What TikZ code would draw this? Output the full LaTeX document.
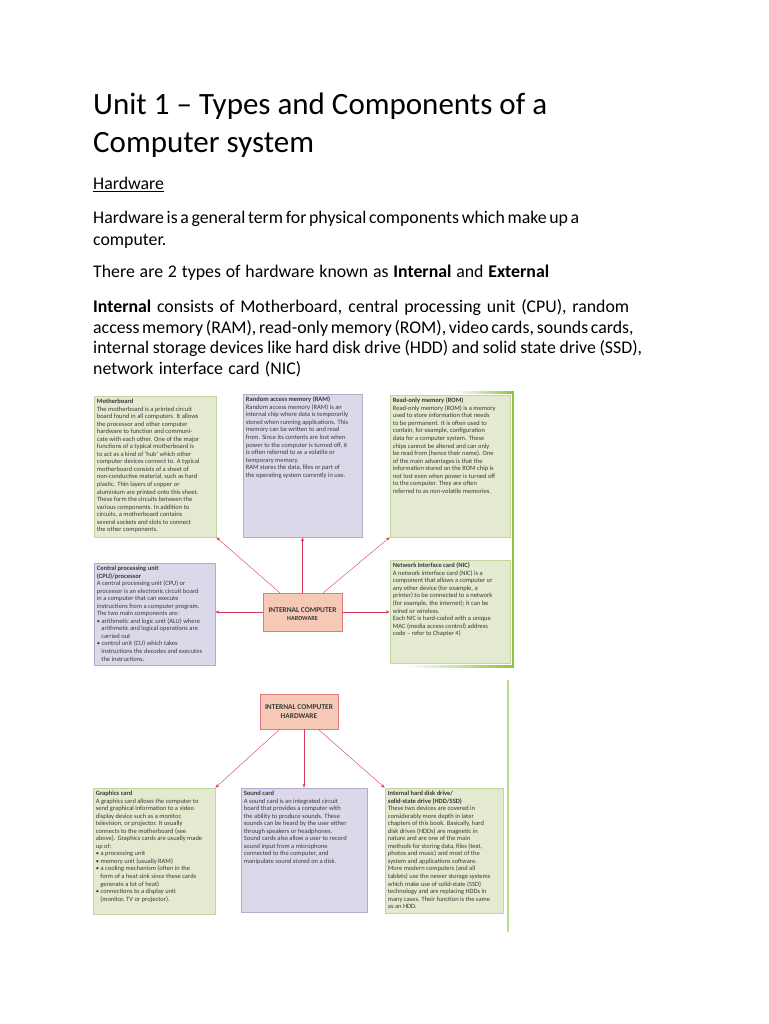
\documentclass[tikz,border=0pt]{standalone}
\usepackage{fontspec}
\setmainfont{Carlito}
\usepackage{tikz}
\usetikzlibrary{arrows.meta, positioning, calc, fit}
\usepackage{xcolor}
\definecolor{boardgreen}{HTML}{E3EACF}
\definecolor{boardgreenline}{HTML}{C3D59E}
\definecolor{chiplilac}{HTML}{DCD8EA}
\definecolor{chiplilacline}{HTML}{B3AACE}
\definecolor{hubsalmon}{HTML}{F6C8B6}
\definecolor{hubline}{HTML}{E0797F}
\definecolor{linkred}{HTML}{D93A5E}
\definecolor{pagegreen}{HTML}{8CC63E}
\definecolor{inktext}{HTML}{3A3A3A}
\newcommand{\spreadline}[2]{\makebox[#1pt][s]{#2}}
\tikzset{
  cardbox/.style={rectangle, draw=#1line, fill=#1, semithick, inner sep=0pt},
  cardbox/.default=boardgreen,
  cardtext/.style={anchor=north west, inner sep=0pt, align=left, text=inktext,
                   font=\fontsize{6.5}{7.55}\selectfont},
  hubbox/.style={rectangle, draw=hubline, fill=hubsalmon, semithick, inner sep=0pt,
                 align=center, text=inktext, font=\fontsize{7.4}{8.6}\selectfont\bfseries},
  line/.style={anchor=base west, inner sep=0pt, font=\fontsize{17.8}{21}\selectfont},
  heading/.style={anchor=base west, inner sep=0pt, font=\fontsize{31}{37}\selectfont},
  arr/.style={-{Stealth[length=4pt, width=3pt]}, #1},
  arr/.default=linkred,
}

\begin{document}
\begin{tikzpicture}[x=1pt, y=-1pt]
  \useasboundingbox[fill=white] (0,0) rectangle (768,1024);

  % --- heading and intro text ---
  \node[heading] (title1) at (93,115) {Unit 1 -- Types and Components of a};
  \node[heading] (title2) at (93,153) {Computer system};
  \node[line] (hw) at (93,190) {\underline{Hardware}};
  \node[line] (p1a) at (93,223) {\spreadline{483}{Hardware is a general term for physical components which make up a}};
  \node[line] (p1b) at (93,245) {computer.};
  \node[line] (p2) at (93,277) {\spreadline{456}{There are 2 types of hardware known as \textbf{Internal} and \textbf{External}}};
  \node[line] (p3a) at (93,312) {\spreadline{536}{\textbf{Internal} consists of Motherboard, central processing unit (CPU), random}};
  \node[line] (p3b) at (93,333) {\spreadline{540}{access memory (RAM), read-only memory (ROM), video cards, sounds cards,}};
  \node[line] (p3c) at (93,353) {\spreadline{549}{internal storage devices like hard disk drive (HDD) and solid state drive (SSD),}};
  \node[line] (p3d) at (93,374) {\spreadline{208}{network interface card (NIC)}};

  % --- upper diagram: page edge of the scan ---
  \shade[left color=white, right color=pagegreen] (455,391) rectangle (513,393.5);
  \shade[left color=white, right color=pagegreen] (405,665) rectangle (513,667.5);
  \draw[pagegreen, line width=1.6pt] (513,391) -- (513,667.5);

  % --- upper diagram: cards ---
  \node[cardbox, fit={(94,396) (216,537)}] (mb) {};
  \node[cardtext] (mbtxt) at ([shift={(3,3)}]mb.north west)
    {\textbf{Motherboard}\\
     The motherboard is a printed circuit\\
     board found in all computers. It allows\\
     the processor and other computer\\
     hardware to function and communi-\\
     cate with each other. One of the major\\
     functions of a typical motherboard is\\
     to act as a kind of `hub' which other\\
     computer devices connect to. A typical\\
     motherboard consists of a sheet of\\
     non-conductive material, such as hard\\
     plastic. Thin layers of copper or\\
     aluminium are printed onto this sheet.\\
     These form the circuits between the\\
     various components. In addition to\\
     circuits, a motherboard contains\\
     several sockets and slots to connect\\
     the other components.};

  \node[cardbox=chiplilac, fit={(243,394) (362,537)}] (ram) {};
  \node[cardtext] (ramtxt) at ([shift={(3,3)}]ram.north west)
    {\textbf{Random access memory (RAM)}\\
     Random access memory (RAM) is an\\
     internal chip where data is temporarily\\
     stored when running applications. This\\
     memory can be written to and read\\
     from. Since its contents are lost when\\
     power to the computer is turned off, it\\
     is often referred to as a volatile or\\
     temporary memory.\\
     RAM stores the data, files or part of\\
     the operating system currently in use.};

  \node[cardbox, fit={(390,395) (510,537)}] (rom) {};
  \node[cardtext] (romtxt) at ([shift={(3,3)}]rom.north west)
    {\textbf{Read-only memory (ROM)}\\
     Read-only memory (ROM) is a memory\\
     used to store information that needs\\
     to be permanent. It is often used to\\
     contain, for example, configuration\\
     data for a computer system. These\\
     chips cannot be altered and can only\\
     be read from (hence their name). One\\
     of the main advantages is that the\\
     information stored on the ROM chip is\\
     not lost even when power is turned off\\
     to the computer. They are often\\
     referred to as non-volatile memories.};

  \node[cardbox=chiplilac, fit={(94,563) (215,665)}] (cpu) {};
  \node[cardtext] (cputxt) at ([shift={(3,3)}]cpu.north west)
    {\textbf{Central processing unit}\\
     \textbf{(CPU)/processor}\\
     A central processing unit (CPU) or\\
     processor is an electronic circuit board\\
     in a computer that can execute\\
     instructions from a computer program.\\
     The two main components are:\\
     \textbullet\ arithmetic and logic unit (ALU) where\\
     \hspace*{4.5pt}arithmetic and logical operations are\\
     \hspace*{4.5pt}carried out\\
     \textbullet\ control unit (CU) which takes\\
     \hspace*{4.5pt}instructions the decodes and executes\\
     \hspace*{4.5pt}the instructions.};

  \node[cardbox, fit={(390,560) (510,663)}] (nic) {};
  \node[cardtext] (nictxt) at ([shift={(3,3)}]nic.north west)
    {\textbf{Network interface card (NIC)}\\
     A network interface card (NIC) is a\\
     component that allows a computer or\\
     any other device (for example, a\\
     printer) to be connected to a network\\
     (for example, the internet); it can be\\
     wired or wireless.\\
     Each NIC is hard-coded with a unique\\
     MAC (media access control) address\\
     code -- refer to Chapter 4)};

  % --- upper diagram: hub and links ---
  \node[hubbox, fit={(263,593) (342,631)}] (hub) {};
  \node[hubbox, draw=none, fill=none] (hubtxt) at ([yshift=-2pt]hub.center)
    {INTERNAL COMPUTER\\{\fontsize{6.2}{7.2}\selectfont HARDWARE}};
  \draw[arr] ([xshift=17pt]hub.north west) -- (mb.south east);
  \draw[arr] (hub.north -| ram.south) -- (ram.south);
  \draw[arr] ([xshift=-19pt]hub.north east) -- (rom.south west);
  \draw[arr] (hub.west) -- (hub.west -| cpu.east);
  \draw[arr] (hub.east) -- (hub.east -| nic.west);

  % --- lower diagram: page edge of the scan ---
  \draw[pagegreen!60, line width=1.2pt] (508,680) -- (508,932);

  % --- lower diagram: hub ---
  \node[hubbox, fit={(260,694) (338,729)}] (hub2) {};
  \node[hubbox, draw=none, fill=none] (hub2txt) at (hub2.center)
    {INTERNAL COMPUTER\\HARDWARE};

  % --- lower diagram: cards ---
  \node[cardbox, fit={(93,788) (215,914)}] (gfx) {};
  \node[cardtext] (gfxtxt) at ([shift={(3,3)}]gfx.north west)
    {\textbf{Graphics card}\\
     A graphics card allows the computer to\\
     send graphical information to a video\\
     display device such as a monitor,\\
     television, or projector. It usually\\
     connects to the motherboard (see\\
     above). Graphics cards are usually made\\
     up of:\\
     \textbullet\ a processing unit\\
     \textbullet\ memory unit (usually RAM)\\
     \textbullet\ a cooling mechanism (often in the\\
     \hspace*{4.5pt}form of a heat sink since these cards\\
     \hspace*{4.5pt}generate a lot of heat)\\
     \textbullet\ connections to a display unit\\
     \hspace*{4.5pt}(monitor, TV or projector).};

  \node[cardbox=chiplilac, fit={(241,788) (367,912)}] (snd) {};
  \node[cardtext] (sndtxt) at ([shift={(3,3)}]snd.north west)
    {\textbf{Sound card}\\
     A sound card is an integrated circuit\\
     board that provides a computer with\\
     the ability to produce sounds. These\\
     sounds can be heard by the user either\\
     through speakers or headphones.\\
     Sound cards also allow a user to record\\
     sound input from a microphone\\
     connected to the computer, and\\
     manipulate sound stored on a disk.};

  \node[cardbox, fit={(385,788) (503,913)}] (hdd) {};
  \node[cardtext] (hddtxt) at ([shift={(3,3)}]hdd.north west)
    {\textbf{Internal hard disk drive/}\\
     \textbf{solid-state drive (HDD/SSD)}\\
     These two devices are covered in\\
     considerably more depth in later\\
     chapters of this book. Basically, hard\\
     disk drives (HDDs) are magnetic in\\
     nature and are one of the main\\
     methods for storing data, files (text,\\
     photos and music) and most of the\\
     system and applications software.\\
     More modern computers (and all\\
     tablets) use the newer storage systems\\
     which make use of solid-state (SSD)\\
     technology and are replacing HDDs in\\
     many cases. Their function is the same\\
     as an HDD.};

  % --- lower diagram: links ---
  \draw[arr] ([xshift=20pt]hub2.south west) -- (gfx.north east);
  \draw[arr] (hub2.south -| snd.north) -- (snd.north);
  \draw[arr] ([xshift=-20pt]hub2.south east) -- (hdd.north west);
\end{tikzpicture}
\end{document}
